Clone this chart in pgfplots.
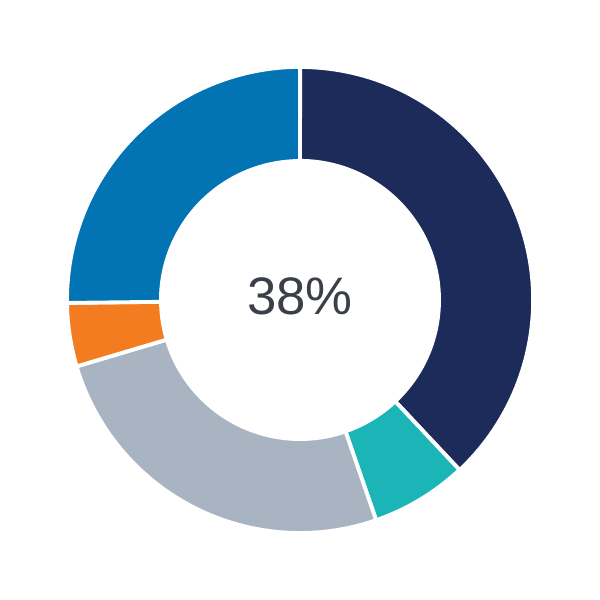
\documentclass[border=0pt]{standalone}
\usepackage{fontspec}
\setmainfont{Liberation Sans}
\usepackage{pgfplots}
\usepackage{pgfplotstable}
\pgfplotsset{compat=1.18}

\definecolor{navy}{HTML}{1C2B5A}
\definecolor{tealc}{HTML}{1BB5B7}
\definecolor{slate}{HTML}{A9B4C2}
\definecolor{orangec}{HTML}{F47C20}
\definecolor{ocean}{HTML}{0274B3}
\definecolor{textgrey}{HTML}{3A3F4A}

% shares in percent, clockwise from 12 o'clock
\pgfplotstableread{
share colour
38.0 navy
6.7 tealc
25.7 slate
4.4 orangec
25.2 ocean
}\donutdata

\begin{document}
\begin{tikzpicture}
\begin{axis}[hide axis, x=0.01cm, y=0.01cm,
  xmin=-300, xmax=300, ymin=-300, ymax=300, clip=false]
\pgfplotstablegetrowsof{\donutdata}
\pgfmathtruncatemacro\lastrow{\pgfplotsretval-1}
\def\cum{0}
\pgfplotsforeachungrouped \i in {0,...,\lastrow}{
  \pgfplotstablegetelem{\i}{share}\of\donutdata \let\share\pgfplotsretval
  \pgfplotstablegetelem{\i}{colour}\of\donutdata \let\col\pgfplotsretval
  \pgfmathsetmacro\a{90-3.6*\cum}
  \pgfmathsetmacro\b{90-3.6*(\cum+\share)}
  \edef\temp{\noexpand\filldraw[fill=\col, draw=white, line width=1.1pt]
    (axis cs:{233*cos(\a)},{233*sin(\a)}) arc[start angle=\a, end angle=\b, radius=2.33cm]
    -- (axis cs:{139*cos(\b)},{139*sin(\b)}) arc[start angle=\b, end angle=\a, radius=1.39cm]
    -- cycle;}
  \temp
  \pgfmathsetmacro\cum{\cum+\share}
}
\node[text=textgrey, font=\fontsize{15}{18}\selectfont] at (axis cs:0,4) {38\%};
\end{axis}
\path (current axis.south west) rectangle (current axis.north east);
\end{tikzpicture}
\end{document}
